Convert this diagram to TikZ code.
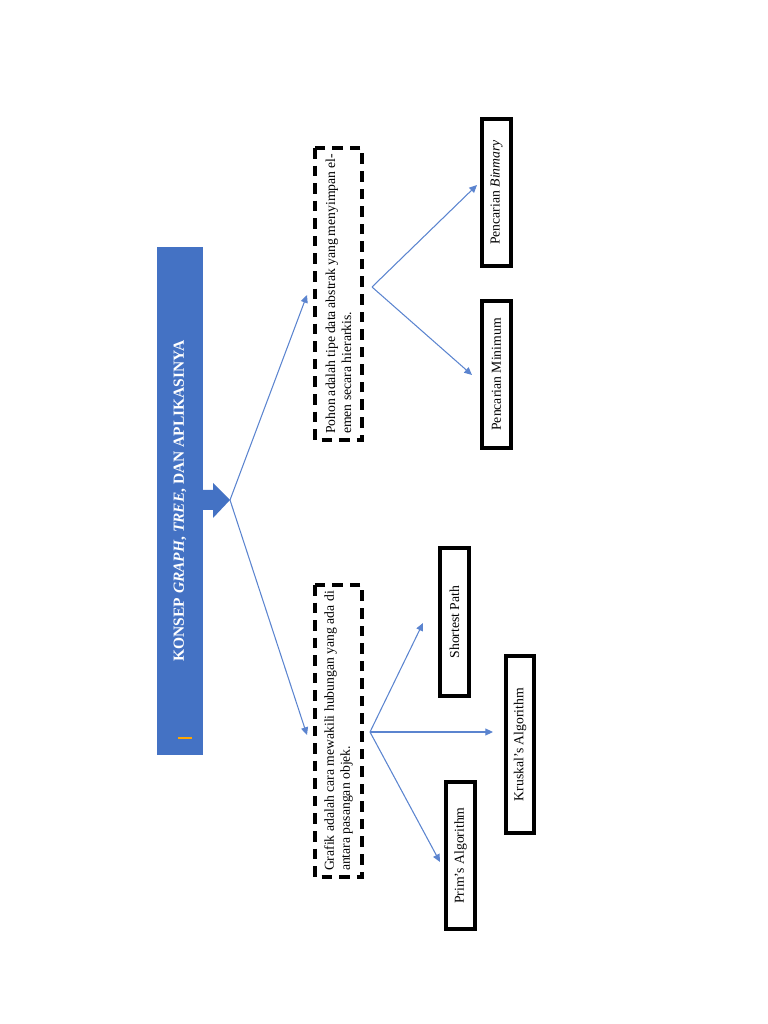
\documentclass[tikz,border=0pt]{standalone}
\usepackage{fontspec}
\setmainfont{Liberation Serif}
\usetikzlibrary{arrows.meta}
\definecolor{barblue}{HTML}{4472C4}
\definecolor{linkblue}{HTML}{5B84CF}
\tikzset{
   box/.style={draw, line width=1pt, rotate=90, inner sep=0pt, font=\fontsize{3.9}{4.4}\selectfont},
   dashbox/.style={draw, line width=1pt, dash pattern=on 3pt off 2pt, rotate=90, inner sep=1pt,
      minimum width=2.92cm, minimum height=0.47cm, text width=2.8cm, align=justify,
      font=\fontsize{3.9}{4.6}\selectfont},
   link/.style={draw=linkblue, line width=0.3pt, -{Triangle[length=2.2pt,width=2pt]}}
}
\begin{document}
\begin{tikzpicture}
   \useasboundingbox (0, 0) rectangle (7.68, 10.24);
   % title bar
   \node [fill=barblue, rotate=90, minimum width=5.08cm, minimum height=0.46cm, inner sep=0pt,
      text=white, font=\bfseries\fontsize{4.4}{5}\selectfont] (title) at (1.80, 5.23)
      {KONSEP \textit{GRAPH}, \textit{TREE}, DAN APLIKASINYA};
   \draw [orange!70!yellow, line width=0.6pt] (1.78, 2.86) -- (1.92, 2.86);
   \fill [barblue] (2.03, 5.14) -- (2.13, 5.14) -- (2.13, 5.06) -- (2.30, 5.24)
      -- (2.13, 5.41) -- (2.13, 5.34) -- (2.03, 5.34) -- cycle;
   \coordinate (hub) at (2.30, 5.24);

   % definitions
   \node [dashbox] (tree) at (3.385, 7.30)
      {Pohon adalah tipe data abstrak yang menyimpan elemen secara hierarkis.};
   \node [dashbox] (graph) at (3.385, 2.93)
      {Grafik adalah cara mewakili hubungan yang ada di antara pasangan objek.};
   \coordinate (treeIn) at (3.07, 7.29);
   \coordinate (graphIn) at (3.07, 2.89);
   \draw [link] (hub) -- (treeIn);
   \draw [link] (hub) -- (graphIn);

   % tree applications
   \node [box, minimum width=1.47cm, minimum height=0.29cm] (binary) at (4.965, 8.315)
      {Pencarian \textit{Binmary}};
   \node [box, minimum width=1.47cm, minimum height=0.29cm] (minimum) at (4.965, 6.495)
      {Pencarian Minimum};
   \coordinate (treeHub) at (3.72, 7.37);
   \coordinate (binaryIn) at (4.77, 8.39);
   \coordinate (minimumIn) at (4.72, 6.49);
   \draw [link] (treeHub) -- (binaryIn);
   \draw [link] (treeHub) -- (minimumIn);

   % graph applications
   \node [box, minimum width=1.48cm, minimum height=0.29cm] (shortest) at (4.545, 4.02)
      {Shortest Path};
   \node [box, minimum width=1.77cm, minimum height=0.28cm] (kruskal) at (5.20, 2.795)
      {Kruskal's Algorithm};
   \node [box, minimum width=1.47cm, minimum height=0.29cm] (prim) at (4.605, 1.685)
      {Prim's Algorithm};
   \coordinate (graphHub) at (3.70, 2.92);
   \coordinate (shortestIn) at (4.23, 4.01);
   \coordinate (kruskalIn) at (4.93, 2.92);
   \coordinate (primIn) at (4.40, 1.62);
   \draw [link] (graphHub) -- (shortestIn);
   \draw [link] (graphHub) -- (kruskalIn);
   \draw [link] (graphHub) -- (primIn);
\end{tikzpicture}
\end{document}
